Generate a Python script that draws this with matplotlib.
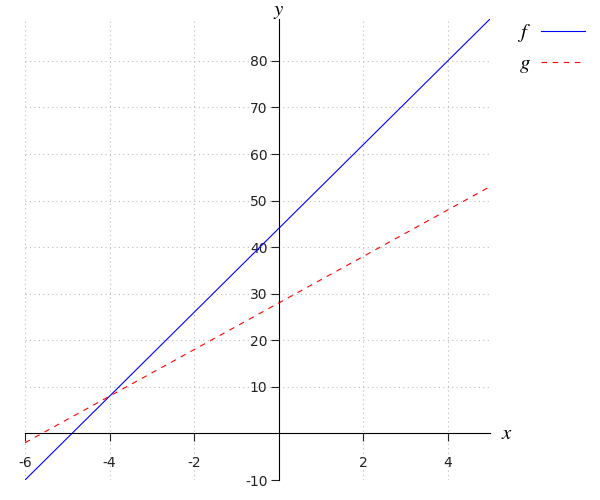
import matplotlib
matplotlib.use("Agg")
import matplotlib.pyplot as plt
import matplotlib.transforms as mtransforms

plt.rcParams["mathtext.fontset"] = "stix"

x = [-6, -4, -2, 0, 2, 4, 5]
f = [-10, 8, 26, 44, 62, 80, 89]
g = [-2, 8, 18, 28, 38, 48, 53]

xticks = [-6, -4, -2, 2, 4]
yticks = [-10, 10, 20, 30, 40, 50, 60, 70, 80]

fig = plt.figure(figsize=(6, 5), dpi=100)
ax = fig.add_axes([25/600, 1 - 480/500, 465/600, 461/500])

ax.plot(x, f, color="blue", lw=0.8, label="$f$")
ax.plot(x, g, color="red", lw=0.8, ls=(0, (5, 5)), label="$g$")

ax.set_xlim(-6, 5)
ax.set_ylim(-10, 89)

ax.spines["left"].set_position(("data", 0))
ax.spines["bottom"].set_position(("data", 0))
ax.spines["right"].set_visible(False)
ax.spines["top"].set_visible(False)
for s in ("left", "bottom"):
    ax.spines[s].set_linewidth(0.8)

ax.set_xticks(xticks)
ax.set_xticklabels([str(v) for v in xticks])
ax.set_yticks(yticks)
ax.set_yticklabels([str(v) for v in yticks])
ax.tick_params(axis="x", direction="out", length=6, width=0.8, pad=10, labelsize=10, colors="#222222")
ax.tick_params(axis="y", direction="out", length=6, width=0.8, pad=2, labelsize=10, colors="#222222")

ax.grid(True, ls=(0, (1, 3)), color="#bbbbbb", lw=0.8)
ax.set_axisbelow(True)

ax.text(5.25, 0, "$x$", fontsize=15, ha="left", va="center")
# y label right at the top edge: x in data units, y in figure units
ytrans = mtransforms.blended_transform_factory(ax.transData, fig.transFigure)
ax.text(0, 1 - 1/500, "$y$", fontsize=15, ha="center", va="top", transform=ytrans)

leg = fig.legend(loc="upper left", bbox_to_anchor=(517/600, 1 - 22/500), frameon=False,
                 markerfirst=False, fontsize=15, handlelength=2.1,
                 borderaxespad=0, borderpad=0, labelspacing=0.45, handletextpad=0.5)

plt.savefig("out.png")
